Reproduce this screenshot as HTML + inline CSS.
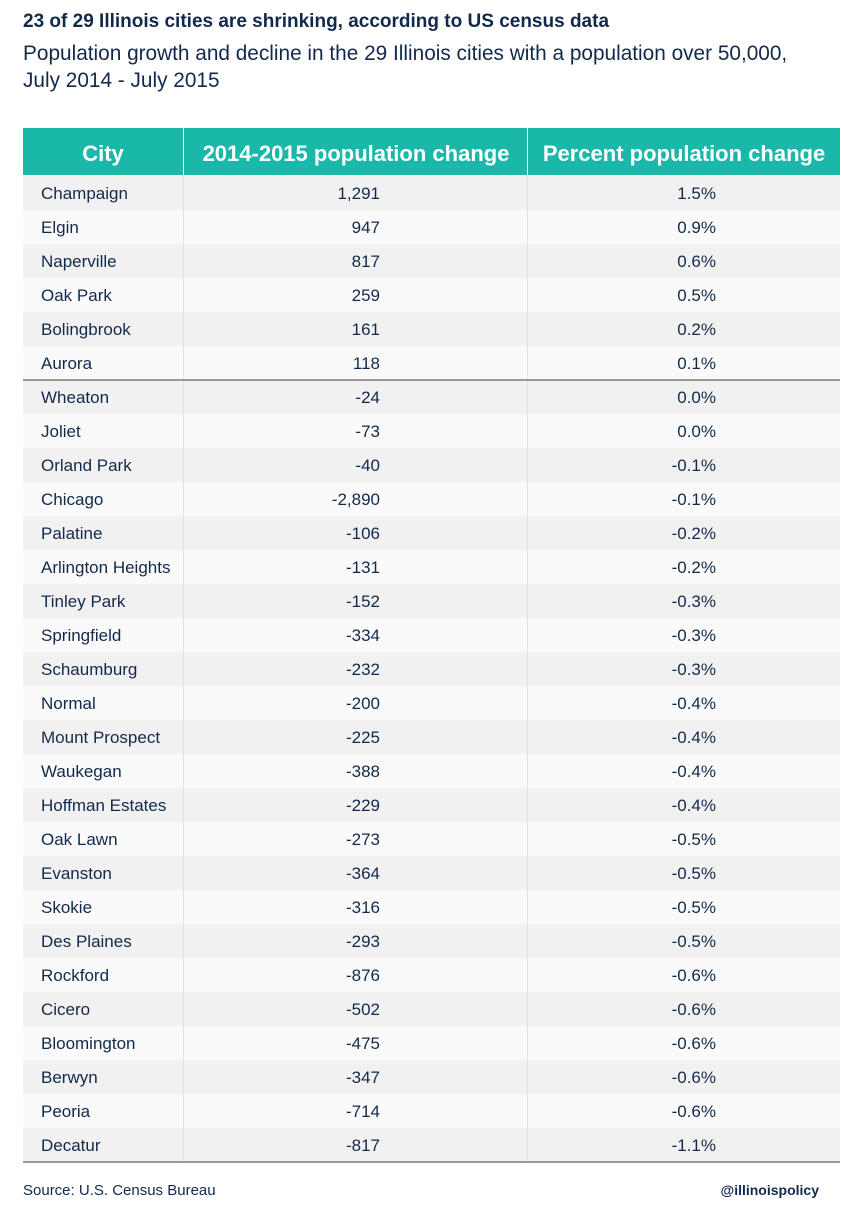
<!DOCTYPE html>
<html><head><style>
body{margin:0;width:841px;height:1217px;background:#fff;font-family:"Liberation Sans",sans-serif;color:#13294b;position:relative;overflow:hidden}
.t{position:absolute;left:23px;top:11px;font-size:19px;font-weight:bold;color:#13294b}
.s{position:absolute;left:23px;top:40px;font-size:20.8px;line-height:27px;color:#13294b;white-space:nowrap}
.hdr{position:absolute;left:23px;top:128px;width:817px;height:47px;background:#1ab8a8}
.hdr div{position:absolute;top:2px;height:47px;line-height:47px;color:#fff;font-weight:bold;font-size:22px;text-align:center}
.row{position:absolute;left:23px;width:817px;height:34px;font-size:17px;line-height:36px}
.row span{position:absolute}
.vl{position:absolute;top:128px;width:1px;height:1034px;background:#e2e2e2}
</style></head><body>
<div class="t">23 of 29 Illinois cities are shrinking, according to US census data</div>
<div class="s">Population growth and decline in the 29 Illinois cities with a population over 50,000,<br>July 2014 - July 2015</div>
<div id="rows"></div>
<div class="hdr">
<div style="left:0;width:160px">City</div>
<div style="left:161px;width:344px">2014-2015 population change</div>
<div style="left:505px;width:312px">Percent population change</div>
</div>
<div style="position:absolute;left:183px;top:128px;width:1px;height:47px;background:#fff"></div>
<div style="position:absolute;left:527px;top:128px;width:1px;height:47px;background:#fff"></div>
<script>
var d=[["Champaign","1,291","1.5%"],["Elgin","947","0.9%"],["Naperville","817","0.6%"],["Oak Park","259","0.5%"],["Bolingbrook","161","0.2%"],["Aurora","118","0.1%"],["Wheaton","-24","0.0%"],["Joliet","-73","0.0%"],["Orland Park","-40","-0.1%"],["Chicago","-2,890","-0.1%"],["Palatine","-106","-0.2%"],["Arlington Heights","-131","-0.2%"],["Tinley Park","-152","-0.3%"],["Springfield","-334","-0.3%"],["Schaumburg","-232","-0.3%"],["Normal","-200","-0.4%"],["Mount Prospect","-225","-0.4%"],["Waukegan","-388","-0.4%"],["Hoffman Estates","-229","-0.4%"],["Oak Lawn","-273","-0.5%"],["Evanston","-364","-0.5%"],["Skokie","-316","-0.5%"],["Des Plaines","-293","-0.5%"],["Rockford","-876","-0.6%"],["Cicero","-502","-0.6%"],["Bloomington","-475","-0.6%"],["Berwyn","-347","-0.6%"],["Peoria","-714","-0.6%"],["Decatur","-817","-1.1%"]];
var h="";
for(var i=0;i<d.length;i++){var y=176+i*34;
h+='<div class="row" style="top:'+y+'px;background:'+(i%2?'#fafafa':'#f1f1f1')+'"><span style="left:18px">'+d[i][0]+'</span><span style="right:460px">'+d[i][1]+'</span><span style="right:124px">'+d[i][2]+'</span></div>';}
h+='<div class="vl" style="left:183px"></div><div class="vl" style="left:527px"></div>';
h+='<div style="position:absolute;left:23px;top:379px;width:817px;height:2px;background:#999"></div>';
h+='<div style="position:absolute;left:23px;top:1161px;width:817px;height:2px;background:#999"></div>';
document.getElementById("rows").innerHTML=h;
</script>
<div style="position:absolute;left:23px;top:1182px;font-size:15px">Source: U.S. Census Bureau</div>
<div style="position:absolute;right:22px;top:1182px;font-size:14px;font-weight:bold">@illinoispolicy</div>
</body></html>
